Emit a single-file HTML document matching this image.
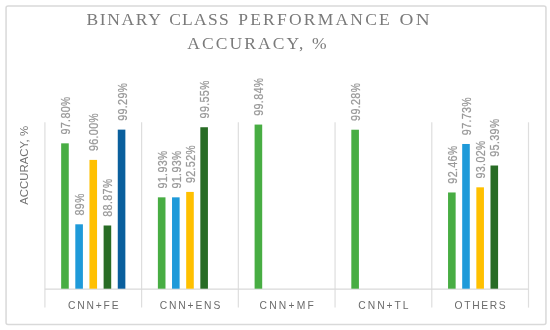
<!DOCTYPE html>
<html><head><meta charset="utf-8"><style>
html,body{margin:0;padding:0;background:#fff;}
body{width:550px;height:330px;position:relative;overflow:hidden;}
svg{position:absolute;left:0;top:0;}
.dl{font-family:"Liberation Sans",sans-serif;font-size:12px;fill:#999999;letter-spacing:0.35px;stroke:#999999;stroke-width:0.25px;}
.cat{font-family:"Liberation Sans",sans-serif;font-size:10.3px;fill:#6b6b6b;letter-spacing:1.85px;}
.ttl{font-family:"Liberation Serif",serif;font-size:17.5px;fill:#7a7a7a;}
.yl{font-family:"Liberation Sans",sans-serif;font-size:11.4px;fill:#737373;}
</style></head><body>
<svg width="550" height="330" viewBox="0 0 550 330">
<rect x="6.05" y="5.9" width="539.9" height="318.6" rx="2" fill="none" stroke="#d9d9d9" stroke-width="1.5"/>
<g transform="translate(0 -0.6)">
<text x="86.4" y="25.8" class="ttl" style="letter-spacing:1.66px">BINARY</text>
<text x="169.2" y="25.8" class="ttl" style="letter-spacing:1.25px">CLASS</text>
<text x="238.2" y="25.8" class="ttl" style="letter-spacing:2.22px">PERFORMANCE</text>
<text x="0" y="0" transform="translate(399.6 25.8) scale(1.1 1)" class="ttl" style="letter-spacing:2px">ON</text>
</g>
<text x="187.2" y="49.0" class="ttl" style="letter-spacing:2.1px">ACCURACY, %</text>
<text x="28" y="165.4" class="yl" text-anchor="middle" transform="rotate(-90 28 165.4)">ACCURACY, %</text>
<line x1="44.90" y1="122.3" x2="44.90" y2="307.6" stroke="#dedede" stroke-width="1.2"/>
<line x1="141.62" y1="122.3" x2="141.62" y2="307.6" stroke="#dedede" stroke-width="1.2"/>
<line x1="238.34" y1="122.3" x2="238.34" y2="307.6" stroke="#dedede" stroke-width="1.2"/>
<line x1="335.06" y1="122.3" x2="335.06" y2="307.6" stroke="#dedede" stroke-width="1.2"/>
<line x1="431.78" y1="122.3" x2="431.78" y2="307.6" stroke="#dedede" stroke-width="1.2"/>
<line x1="528.50" y1="122.3" x2="528.50" y2="307.6" stroke="#dedede" stroke-width="1.2"/>
<line x1="44.90" y1="289.2" x2="528.50" y2="289.2" stroke="#d9d9d9" stroke-width="1.2"/>
<rect x="61.16" y="143.34" width="7.6" height="145.36" fill="#48AD43"/>
<g transform="translate(69.96 134.54) rotate(-90) scale(0.9 1)"><text x="0" y="0" class="dl">97.80</text><text x="0" y="0" transform="translate(31.78 0) scale(0.95 1)" class="dl">%</text></g>
<rect x="75.31" y="224.30" width="7.6" height="64.40" fill="#1F9AD9"/>
<g transform="translate(84.11 215.50) rotate(-90) scale(0.9 1)"><text x="0" y="0" class="dl">89</text><text x="0" y="0" transform="translate(14.05 0) scale(0.95 1)" class="dl">%</text></g>
<rect x="89.46" y="159.90" width="7.6" height="128.80" fill="#FFC000"/>
<g transform="translate(98.26 151.10) rotate(-90) scale(0.9 1)"><text x="0" y="0" class="dl">96.00</text><text x="0" y="0" transform="translate(31.78 0) scale(0.95 1)" class="dl">%</text></g>
<rect x="103.61" y="225.50" width="7.6" height="63.20" fill="#286C25"/>
<g transform="translate(112.41 216.70) rotate(-90) scale(0.9 1)"><text x="0" y="0" class="dl">88.87</text><text x="0" y="0" transform="translate(31.78 0) scale(0.95 1)" class="dl">%</text></g>
<rect x="117.76" y="129.63" width="7.6" height="159.07" fill="#0A5F9D"/>
<g transform="translate(126.56 120.83) rotate(-90) scale(0.9 1)"><text x="0" y="0" class="dl">99.29</text><text x="0" y="0" transform="translate(31.78 0) scale(0.95 1)" class="dl">%</text></g>
<text x="94.18" y="308.9" class="cat" text-anchor="middle" style="letter-spacing:1.85px">CNN+FE</text>
<rect x="157.88" y="197.34" width="7.6" height="91.36" fill="#48AD43"/>
<g transform="translate(166.68 188.54) rotate(-90) scale(0.9 1)"><text x="0" y="0" class="dl">91.93</text><text x="0" y="0" transform="translate(31.78 0) scale(0.95 1)" class="dl">%</text></g>
<rect x="172.03" y="197.34" width="7.6" height="91.36" fill="#1F9AD9"/>
<g transform="translate(180.83 188.54) rotate(-90) scale(0.9 1)"><text x="0" y="0" class="dl">91.93</text><text x="0" y="0" transform="translate(31.78 0) scale(0.95 1)" class="dl">%</text></g>
<rect x="186.18" y="191.92" width="7.6" height="96.78" fill="#FFC000"/>
<g transform="translate(194.98 183.12) rotate(-90) scale(0.9 1)"><text x="0" y="0" class="dl">92.52</text><text x="0" y="0" transform="translate(31.78 0) scale(0.95 1)" class="dl">%</text></g>
<rect x="200.33" y="127.24" width="7.6" height="161.46" fill="#286C25"/>
<g transform="translate(209.13 118.44) rotate(-90) scale(0.9 1)"><text x="0" y="0" class="dl">99.55</text><text x="0" y="0" transform="translate(31.78 0) scale(0.95 1)" class="dl">%</text></g>
<text x="190.91" y="308.9" class="cat" text-anchor="middle" style="letter-spacing:1.85px">CNN+ENS</text>
<rect x="254.60" y="124.57" width="7.6" height="164.13" fill="#48AD43"/>
<g transform="translate(263.40 115.77) rotate(-90) scale(0.9 1)"><text x="0" y="0" class="dl">99.84</text><text x="0" y="0" transform="translate(31.78 0) scale(0.95 1)" class="dl">%</text></g>
<text x="287.82" y="308.9" class="cat" text-anchor="middle" style="letter-spacing:2.25px">CNN+MF</text>
<rect x="351.32" y="129.72" width="7.6" height="158.98" fill="#48AD43"/>
<g transform="translate(360.12 120.92) rotate(-90) scale(0.9 1)"><text x="0" y="0" class="dl">99.28</text><text x="0" y="0" transform="translate(31.78 0) scale(0.95 1)" class="dl">%</text></g>
<text x="384.39" y="308.9" class="cat" text-anchor="middle" style="letter-spacing:1.95px">CNN+TL</text>
<rect x="448.04" y="192.47" width="7.6" height="96.23" fill="#48AD43"/>
<g transform="translate(456.84 183.67) rotate(-90) scale(0.9 1)"><text x="0" y="0" class="dl">92.46</text><text x="0" y="0" transform="translate(31.78 0) scale(0.95 1)" class="dl">%</text></g>
<rect x="462.19" y="143.98" width="7.6" height="144.72" fill="#1F9AD9"/>
<g transform="translate(470.99 135.18) rotate(-90) scale(0.9 1)"><text x="0" y="0" class="dl">97.73</text><text x="0" y="0" transform="translate(31.78 0) scale(0.95 1)" class="dl">%</text></g>
<rect x="476.34" y="187.32" width="7.6" height="101.38" fill="#FFC000"/>
<g transform="translate(485.14 178.52) rotate(-90) scale(0.9 1)"><text x="0" y="0" class="dl">93.02</text><text x="0" y="0" transform="translate(31.78 0) scale(0.95 1)" class="dl">%</text></g>
<rect x="490.49" y="165.51" width="7.6" height="123.19" fill="#286C25"/>
<g transform="translate(499.29 156.71) rotate(-90) scale(0.9 1)"><text x="0" y="0" class="dl">95.39</text><text x="0" y="0" transform="translate(31.78 0) scale(0.95 1)" class="dl">%</text></g>
<text x="480.96" y="308.9" class="cat" text-anchor="middle" style="letter-spacing:1.65px">OTHERS</text>
</svg>
</body></html>
